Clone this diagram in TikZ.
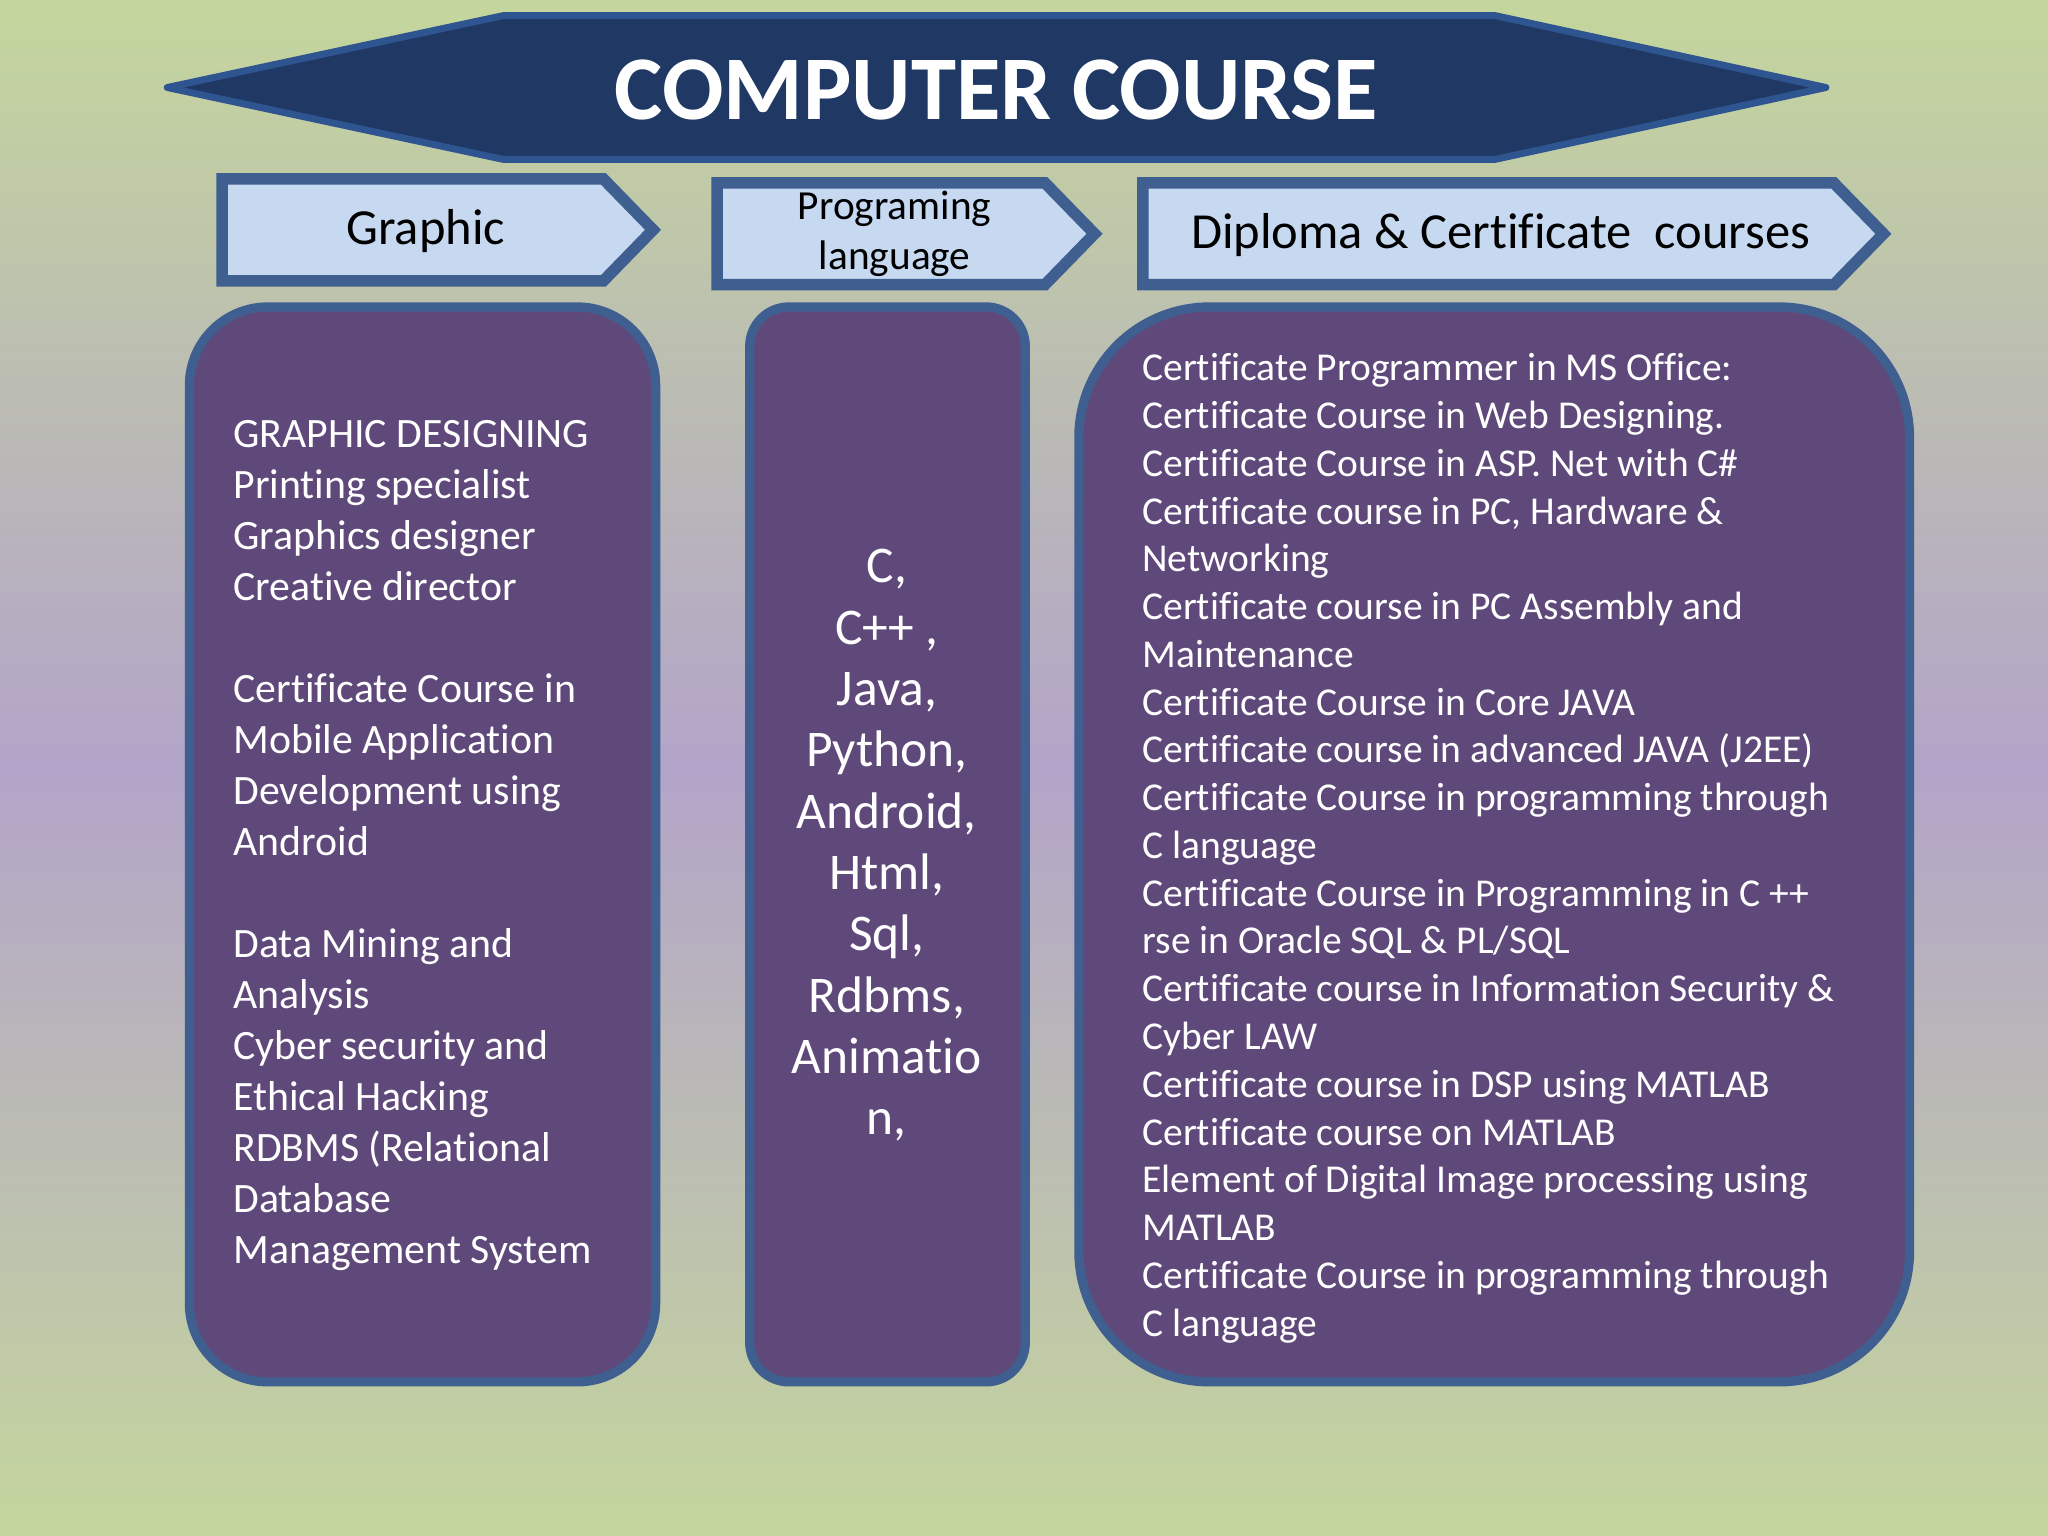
\documentclass[tikz,border=0pt]{standalone}
\usepackage{fontspec}
\setmainfont{Carlito}[RawFeature=-liga]
\definecolor{bgG}{HTML}{C4D69C}
\definecolor{bgP}{HTML}{B3A4C9}
\definecolor{navy}{HTML}{1F3864}
\definecolor{navyb}{HTML}{2F5590}
\definecolor{lblue}{HTML}{C6D9F1}
\definecolor{bord}{HTML}{3E5F8F}
\definecolor{purp}{HTML}{5F497A}
\tikzset{
 hdr/.style={fill=lblue,draw=bord,line width=2.5pt},
 pbox/.style={fill=purp,draw=bord,line width=2pt},
 wtxt/.style={text=white,inner sep=0pt},
}
\begin{document}
\begin{tikzpicture}[x={(0.01cm,0)},y={(0,-0.01cm)}]
\useasboundingbox (0,0) rectangle (1568,1176);
\shade[top color=bgG,bottom color=bgG,middle color=bgP] (0,0) rectangle (1568,1176);
% banner
\draw[fill=navy,draw=navyb,line width=1.5pt,line join=round] (128,67) -- (385,12) -- (1145,12) -- (1398,67) -- (1145,122) -- (385,122) -- cycle;
\node[wtxt,font=\fontsize{19.8}{22}\selectfont\bfseries] (title) at (763,69) {COMPUTER COURSE};
% headers
\draw[hdr] (170,137) -- (462,137) -- (500,176) -- (462,215) -- (170,215) -- cycle;
\node[inner sep=0pt,font=\fontsize{11}{13}\selectfont] (hg) at (326,177) {Graphic};
\draw[hdr] (549,140) -- (800,140) -- (838,179) -- (800,218) -- (549,218) -- cycle;
\node[inner sep=0pt,align=center,font=\fontsize{9}{10.8}\selectfont] (hp) at (685,179) {Programing\\language};
\draw[hdr] (875,140) -- (1404,140) -- (1442,179) -- (1404,218) -- (875,218) -- cycle;
\node[inner sep=0pt,font=\fontsize{11}{13}\selectfont] (hd) at (1149,180) {Diploma \& Certificate\ \ courses};
% boxes
\draw[pbox,rounded corners=0.6cm] (145,235) rectangle (502,1058);
\draw[pbox,rounded corners=0.3cm] (574,235) rectangle (785,1058);
\draw[pbox,rounded corners=1cm] (826,235) rectangle (1462,1058);
% texts
\node[wtxt,anchor=north west,align=left,font=\fontsize{9.1}{11.1}\selectfont] (tg) at (178,321) {GRAPHIC DESIGNING\\Printing specialist\\Graphics designer\\Creative director\\[11.1pt]Certificate Course in\\Mobile Application\\Development using\\Android\\[11.1pt]Data Mining and\\Analysis\\Cyber security and\\Ethical Hacking\\RDBMS (Relational\\Database\\Management System};
\node[wtxt,anchor=north,align=center,font=\fontsize{11.2}{13.35}\selectfont] (tp) at (679,420) {C,\\C++ ,\\Java,\\Python,\\Android,\\Html,\\Sql,\\Rdbms,\\Animatio\\n,};
\node[wtxt,anchor=north west,align=left,font=\fontsize{8.6}{10.4}\selectfont] (td) at (874,270) {Certificate Programmer in MS Office:\\Certificate Course in Web Designing.\\Certificate Course in ASP. Net with C\#\\Certificate course in PC, Hardware \&\\Networking\\Certificate course in PC Assembly and\\Maintenance\\Certificate Course in Core JAVA\\Certificate course in advanced JAVA (J2EE)\\Certificate Course in programming through\\C language\\Certificate Course in Programming in C ++\\rse in Oracle SQL \& PL/SQL\\Certificate course in Information Security \&\\Cyber LAW\\Certificate course in DSP using MATLAB\\Certificate course on MATLAB\\Element of Digital Image processing using\\MATLAB\\Certificate Course in programming through\\C language};
\end{tikzpicture}
\end{document}
